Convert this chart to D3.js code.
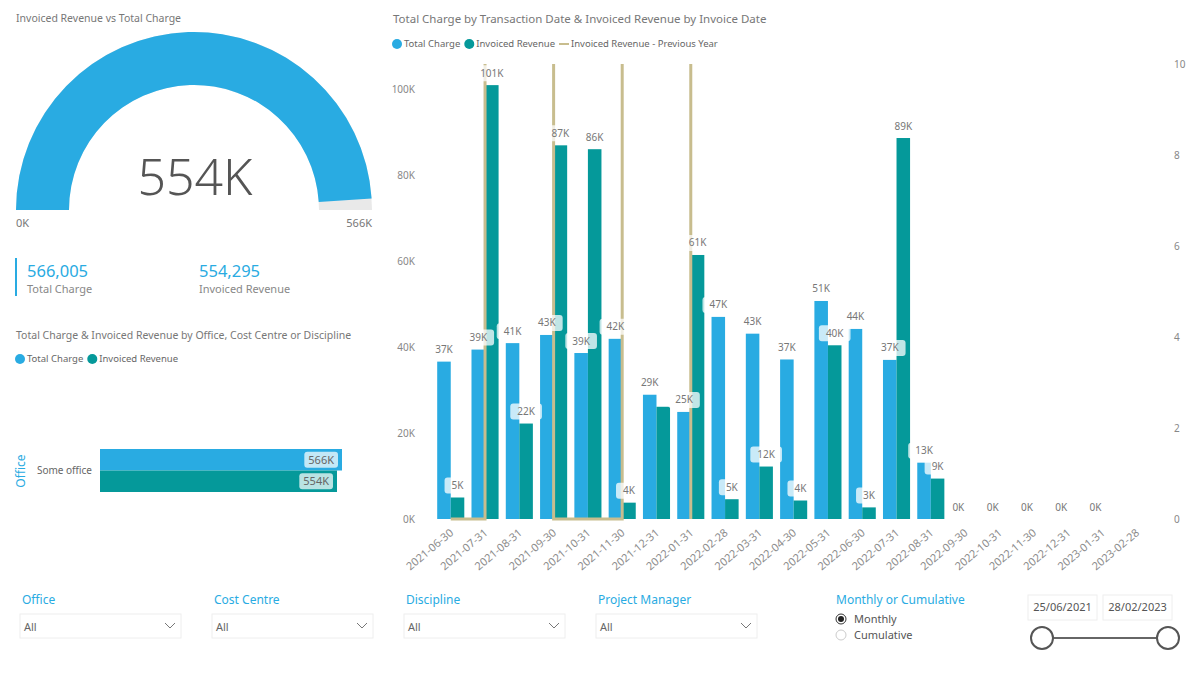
<!DOCTYPE html>
<html>
<head>
<meta charset="utf-8">
<script src="https://cdn.jsdelivr.net/npm/d3@7"></script>
<style>
  body { margin: 0; background: #fff; font-family: "Noto Sans", "Open Sans", sans-serif; }
  svg text { font-family: "Noto Sans", "Open Sans", sans-serif; }
</style>
</head>
<body>
<svg id="dash" width="1200" height="682"></svg>
<script>
// ---- data ----
var months = ["2021-06-30","2021-07-31","2021-08-31","2021-09-30","2021-10-31","2021-11-30",
              "2021-12-31","2022-01-31","2022-02-28","2022-03-31","2022-04-30","2022-05-31",
              "2022-06-30","2022-07-31","2022-08-31","2022-09-30","2022-10-31","2022-11-30",
              "2022-12-31","2023-01-31","2023-02-28"];
var totalCharge = [36600, 39400, 40900, 42800, 38600, 41900, 28900, 24900, 47000, 43100, 37100,
                   50700, 44200, 37000, 13100, 0, 0, 0, 0, 0, null];
var invoicedRevenue = [5000, 100900, 22200, 86900, 86000, 3800, 26100, 61400, 4600, 12200, 4300,
                       40400, 2700, 88600, 9400, null, null, null, null, null, null];
// previous year line sits on the secondary axis (0-10), so its values run far off the top
var prevYearRevenue = [0, 0, 52000, 0, 0, 0, 48000, 0, null, null, null, null, null, null, null,
                       null, null, null, null, null, null];
var hiddenRevenueLabels = ["2021-12-31"];
var leftTicks = [0, 20000, 40000, 60000, 80000, 100000];
var rightTicks = [0, 2, 4, 6, 8, 10];

var totalChargeSum = 566005;
var invoicedRevenueSum = 554295;

var offices = ["Some office"];
var officeCharge = [566005];
var officeRevenue = [554295];

var slicerNames = ["Office", "Cost Centre", "Discipline", "Project Manager"];
var radioOptions = ["Monthly", "Cumulative"];
var dateRange = ["25/06/2021", "28/02/2023"];

var blue = "#29abe2", teal = "#05999a", khaki = "#c8bd8e";
var kfmt = function(v) { return Math.round(v / 1000) + "K"; };

var svg = d3.select("#dash");

// ***********************************************
// gauge
// ***********************************************
svg.append("text").attr("x", 16).attr("y", 18).attr("dy", "0.35em")
  .attr("fill", "#777").style("font-size", "10.5px")
  .text("Invoiced Revenue vs Total Charge");

var gauge = svg.append("g").attr("transform", "translate(194,210)");
var arc = d3.arc().innerRadius(125).outerRadius(178);
var gaugeScale = d3.scaleLinear().domain([0, totalChargeSum]).range([-Math.PI / 2, Math.PI / 2]);
gauge.append("path")
  .attr("d", arc({ startAngle: -Math.PI / 2, endAngle: Math.PI / 2 }))
  .attr("fill", "#e9e9e9");
gauge.append("path")
  .attr("d", arc({ startAngle: -Math.PI / 2, endAngle: gaugeScale(invoicedRevenueSum) }))
  .attr("fill", blue);
gauge.append("text").attr("x", 1).attr("y", -15)
  .attr("text-anchor", "middle").attr("fill", "#555")
  .style("font-size", "50px").style("font-weight", "300")
  .text(kfmt(invoicedRevenueSum));
gauge.append("text").attr("x", -178).attr("y", 13).attr("dy", "0.35em")
  .attr("fill", "#777").style("font-size", "11px").text("0K");
gauge.append("text").attr("x", 178).attr("y", 13).attr("dy", "0.35em")
  .attr("text-anchor", "end").attr("fill", "#777").style("font-size", "11px")
  .text(kfmt(totalChargeSum));

// ***********************************************
// KPI cards
// ***********************************************
svg.append("rect").attr("x", 15).attr("y", 258).attr("width", 2).attr("height", 38).attr("fill", blue);
var kpis = [[27, totalChargeSum, "Total Charge"], [199, invoicedRevenueSum, "Invoiced Revenue"]];
kpis.forEach(function(k) {
  svg.append("text").attr("x", k[0]).attr("y", 271).attr("dy", "0.35em")
    .attr("fill", blue).style("font-size", "16.5px").text(d3.format(",")(k[1]));
  svg.append("text").attr("x", k[0]).attr("y", 289).attr("dy", "0.35em")
    .attr("fill", "#888").style("font-size", "11px").text(k[2]);
});

// legend helper
function legend(g, x, y, items) {
  items.forEach(function(it) {
    if (it.line) {
      g.append("line").attr("x1", x).attr("x2", x + 10).attr("y1", y).attr("y2", y)
        .attr("stroke", it.color).attr("stroke-width", 2);
      x += 12;
    } else {
      g.append("circle").attr("cx", x + 5).attr("cy", y).attr("r", 5).attr("fill", it.color);
      x += 12;
    }
    var t = g.append("text").attr("x", x).attr("y", y).attr("dy", "0.35em")
      .attr("fill", "#666").style("font-size", "9.5px").text(it.name);
    x += t.node().getComputedTextLength() + 4;
  });
}

// ***********************************************
// office bar chart
// ***********************************************
svg.append("text").attr("x", 16).attr("y", 335).attr("dy", "0.35em")
  .attr("fill", "#777").style("font-size", "10.5px")
  .text("Total Charge & Invoiced Revenue by Office, Cost Centre or Discipline");
legend(svg, 15, 359, [{ name: "Total Charge", color: blue }, { name: "Invoiced Revenue", color: teal }]);

var yOffice = d3.scaleBand().domain(offices).range([449, 492]);
var ySeries = d3.scaleBand().domain(["tc", "ir"]).range([0, yOffice.bandwidth()]);
var xOffice = d3.scaleLinear().domain([0, d3.max(officeCharge)]).range([100, 342]);

svg.append("text").attr("transform", "translate(21,471) rotate(-90)")
  .attr("text-anchor", "middle").attr("dy", "0.35em")
  .attr("fill", blue).style("font-size", "12px").text("Office");

offices.forEach(function(o, i) {
  svg.append("text").attr("x", 92).attr("y", yOffice(o) + yOffice.bandwidth() / 2).attr("dy", "0.35em")
    .attr("text-anchor", "end").attr("fill", "#666").style("font-size", "10px").text(o);
  [["tc", officeCharge[i], blue], ["ir", officeRevenue[i], teal]].forEach(function(s) {
    var y0 = yOffice(o) + ySeries(s[0]);
    svg.append("rect").attr("x", xOffice(0)).attr("y", y0)
      .attr("width", xOffice(s[1]) - xOffice(0)).attr("height", ySeries.bandwidth())
      .attr("fill", s[2]);
    var lg = svg.append("g");
    var box = lg.append("rect");
    var t = lg.append("text").attr("x", xOffice(s[1]) - 8).attr("y", y0 + ySeries.bandwidth() / 2)
      .attr("dy", "0.35em").attr("text-anchor", "end").attr("fill", "#666")
      .style("font-size", "11px").text(kfmt(s[1]));
    var w = t.node().getComputedTextLength() + 8;
    box.attr("x", xOffice(s[1]) - 4 - w).attr("y", y0 + ySeries.bandwidth() / 2 - 8)
      .attr("width", w).attr("height", 16).attr("rx", 3)
      .attr("fill", "#fff").attr("fill-opacity", 0.72);
  });
});

// ***********************************************
// main combo chart
// ***********************************************
svg.append("text").attr("x", 393).attr("y", 19).attr("dy", "0.35em")
  .attr("fill", "#777").style("font-size", "11.5px")
  .text("Total Charge by Transaction Date & Invoiced Revenue by Invoice Date");
legend(svg, 392, 44, [
  { name: "Total Charge", color: blue },
  { name: "Invoiced Revenue", color: teal },
  { name: "Invoiced Revenue - Previous Year", color: khaki, line: true }
]);

var x = d3.scaleBand().domain(months).range([433.6, 1153.7]).paddingInner(0.21).paddingOuter(0.105);
var x1 = d3.scaleBand().domain(["tc", "ir"]).range([0, x.bandwidth()]);
var y = d3.scaleLinear().domain([0, 100000]).range([519, 89]);
var y2 = d3.scaleLinear().domain([0, 10]).range([519, 64]);

var yAxis = svg.append("g").attr("transform", "translate(415,0)")
  .call(d3.axisLeft(y).tickValues(leftTicks).tickFormat(kfmt).tickSize(0).tickPadding(0));
var y2Axis = svg.append("g").attr("transform", "translate(1174,0)")
  .call(d3.axisRight(y2).tickValues(rightTicks).tickSize(0).tickPadding(0));
[yAxis, y2Axis].forEach(function(a) {
  a.select(".domain").remove();
  a.selectAll("text").attr("fill", "#888").style("font-size", "10px");
});

var xAxis = svg.append("g").attr("transform", "translate(0,519)")
  .call(d3.axisBottom(x).tickSize(0));
xAxis.select(".domain").remove();
xAxis.selectAll("text")
  .attr("x", 0).attr("y", 0).attr("dy", "0.35em")
  .attr("transform", "translate(1,12) rotate(-40)")
  .style("text-anchor", "end").attr("fill", "#8c8c8c").style("font-size", "11px");

svg.append("clipPath").attr("id", "plotclip")
  .append("rect").attr("x", 425).attr("y", 64).attr("width", 740).attr("height", 460);
var plot = svg.append("g").attr("clip-path", "url(#plotclip)");

var rows = months.map(function(m, i) {
  return { m: m, tc: totalCharge[i], ir: invoicedRevenue[i], py: prevYearRevenue[i] };
});

var groups = plot.selectAll("g.month").data(rows).enter().append("g")
  .attr("class", "month").attr("transform", function(d) { return "translate(" + x(d.m) + ",0)"; });
groups.filter(function(d) { return d.tc; }).append("rect")
  .attr("x", x1("tc")).attr("width", x1.bandwidth())
  .attr("y", function(d) { return y(d.tc); })
  .attr("height", function(d) { return y(0) - y(d.tc); })
  .attr("fill", blue);
groups.filter(function(d) { return d.ir; }).append("rect")
  .attr("x", x1("ir")).attr("width", x1.bandwidth())
  .attr("y", function(d) { return y(d.ir); })
  .attr("height", function(d) { return y(0) - y(d.ir); })
  .attr("fill", teal);

var line = d3.line()
  .defined(function(d) { return d.py !== null; })
  .x(function(d) { return x(d.m) + x.bandwidth() / 2; })
  .y(function(d) { return y2(d.py); });
plot.append("path").datum(rows).attr("d", line)
  .attr("fill", "none").attr("stroke", khaki).attr("stroke-width", 3);

// data labels (semi transparent white boxes)
var labels = [];
rows.forEach(function(d) {
  if (d.tc !== null) labels.push({ m: d.m, s: "tc", v: d.tc });
  if (d.ir !== null && hiddenRevenueLabels.indexOf(d.m) < 0) labels.push({ m: d.m, s: "ir", v: d.ir });
});
var lab = svg.append("g").selectAll("g").data(labels).enter().append("g")
  .attr("transform", function(d) {
    return "translate(" + (x(d.m) + x1(d.s) + x1.bandwidth() / 2) + "," + (y(d.v) - 12) + ")";
  });
var labBox = lab.append("rect");
lab.append("text").attr("text-anchor", "middle").attr("dy", "0.35em")
  .attr("fill", "#777").style("font-size", "10px")
  .text(function(d) { return kfmt(d.v); });
lab.each(function() {
  var g = d3.select(this);
  var w = g.select("text").node().getComputedTextLength() + 14;
  g.select("rect").attr("x", -w / 2).attr("y", -8).attr("width", w).attr("height", 16)
    .attr("rx", 3).attr("fill", "#fff").attr("fill-opacity", 0.75);
});

// ***********************************************
// slicers
// ***********************************************
slicerNames.forEach(function(name, i) {
  var sx = 20 + i * 192;
  svg.append("text").attr("x", sx + 2).attr("y", 600).attr("dy", "0.35em")
    .attr("fill", blue).style("font-size", "12px").text(name);
  svg.append("rect").attr("x", sx).attr("y", 614).attr("width", 161).attr("height", 24)
    .attr("fill", "#fff").attr("stroke", "#eeeeee");
  svg.append("text").attr("x", sx + 4).attr("y", 627).attr("dy", "0.35em")
    .attr("fill", "#666").style("font-size", "11px").text("All");
  svg.append("path")
    .attr("d", "M" + (sx + 145) + ",623 L" + (sx + 150) + ",628 L" + (sx + 155) + ",623")
    .attr("fill", "none").attr("stroke", "#777").attr("stroke-width", 1);
});

svg.append("text").attr("x", 836).attr("y", 600).attr("dy", "0.35em")
  .attr("fill", blue).style("font-size", "12px").text("Monthly or Cumulative");
radioOptions.forEach(function(o, i) {
  var cy = 619 + i * 16;
  svg.append("circle").attr("cx", 841).attr("cy", cy).attr("r", 5)
    .attr("fill", "#fff").attr("stroke", i === 0 ? "#333" : "#ccc").attr("stroke-width", 1);
  if (i === 0) svg.append("circle").attr("cx", 841).attr("cy", cy).attr("r", 3).attr("fill", "#222");
  svg.append("text").attr("x", 854).attr("y", cy).attr("dy", "0.35em")
    .attr("fill", "#555").style("font-size", "11px").text(o);
});

dateRange.forEach(function(d, i) {
  var bx = 1028 + i * 75;
  svg.append("rect").attr("x", bx).attr("y", 595).attr("width", 69).attr("height", 25)
    .attr("fill", "#fff").attr("stroke", "#eeeeee");
  svg.append("text").attr("x", bx + 34.5).attr("y", 607.5).attr("dy", "0.35em")
    .attr("text-anchor", "middle").attr("fill", "#555").style("font-size", "11px").text(d);
});
svg.append("line").attr("x1", 1042).attr("x2", 1168).attr("y1", 638).attr("y2", 638)
  .attr("stroke", "#666").attr("stroke-width", 2);
[1042, 1168].forEach(function(cx) {
  svg.append("circle").attr("cx", cx).attr("cy", 638).attr("r", 11)
    .attr("fill", "#fff").attr("stroke", "#555").attr("stroke-width", 2);
});
</script>
</body>
</html>
